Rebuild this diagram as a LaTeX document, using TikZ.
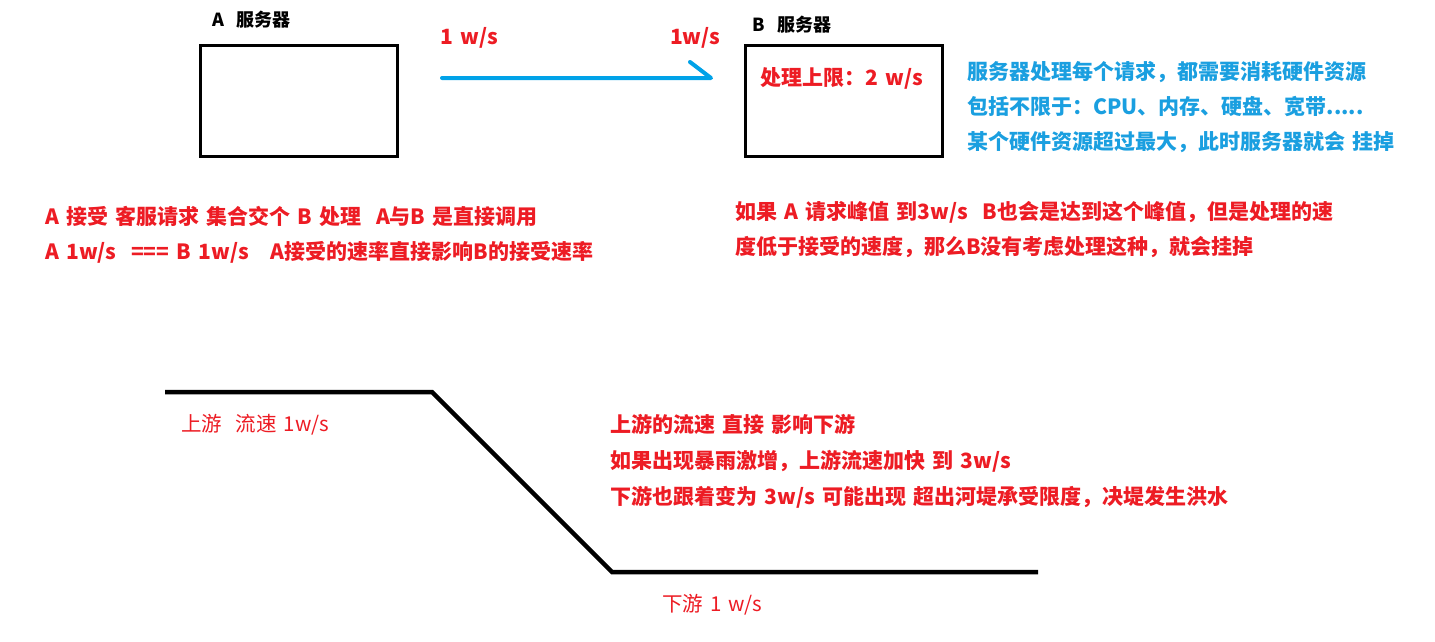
\documentclass[tikz,border=0pt]{standalone}
\usepackage{fontspec}
\setmainfont{Noto Sans CJK SC}[WordSpace=1.5]
\usetikzlibrary{positioning, arrows.meta}
\definecolor{paintred}{HTML}{ED1C24}
\definecolor{paintblue}{HTML}{00A2E8}
\definecolor{skytext}{HTML}{1A9FE0}
\tikzset{
  srv/.style={draw=black, line width=3pt, fill=white, minimum width=197pt,
    minimum height=111pt, inner sep=0pt},
  ttl/.style={anchor=west, inner sep=0pt, text=black, font=\bfseries\fontsize{18}{20}\selectfont},
  rtxt/.style={anchor=west, inner sep=0pt, text=paintred, font=\bfseries\fontsize{21}{24}\selectfont},
  btxt/.style={rtxt, text=skytext},
  rthin/.style={anchor=west, inner sep=0pt, text=paintred, font=\fontsize{20.5}{24}\selectfont},
  flow/.style={line width=4pt, color=paintblue, line cap=round, line join=round},
  bank/.style={line width=4.5pt, color=black, line join=miter},
}
\begin{document}
\begin{tikzpicture}[x=1pt, y=-1pt]
  \useasboundingbox[fill=white] (0,0) rectangle (1435,641);
  \node[srv] (boxA) at (299,101) {};
  \node[srv] (boxB) at (843.5,101) {};
  \node[ttl] (ttlA) at (212,20) {A\ \ 服务器};
  \node[ttl] (ttlB) at (752,25) {B\ \ 服务器};
  \node[rtxt] (rateA) at (440,38) {1 w/s};
  \node[rtxt] (rateB) at (670,38) {1w/s};
  \node[rtxt] (cap) at (760,78) {处理上限：2 w/s};
  \coordinate (arrA) at (442,78);
  \coordinate (arrB) at (711,78);
  \coordinate (barb) at (690,62);
  \draw[flow] (arrA) -- (arrB) -- (barb);
  \node[btxt] (hw1) at (967,72) {服务器处理每个请求，都需要消耗硬件资源};
  \node[btxt] (hw2) at (967,106) {包括不限于：CPU、内存、硬盘、宽带.....};
  \node[btxt] (hw3) at (967,142) {某个硬件资源超过最大，此时服务器就会 挂掉};
  \node[rtxt] (call1) at (45,216) {A 接受 客服请求 集合交个 B 处理~~A与B 是直接调用};
  \node[rtxt] (call2) at (45,252) {A 1w/s~~=== B 1w/s~~~A接受的速率直接影响B的接受速率};
  \node[rtxt] (peak1) at (735,212) {如果 A 请求峰值 到3w/s~~B也会是达到这个峰值，但是处理的速};
  \node[rtxt] (peak2) at (735,247) {度低于接受的速度，那么B没有考虑处理这种，就会挂掉};
  \coordinate (up0) at (165,392);
  \coordinate (up1) at (432,392);
  \coordinate (dn0) at (612,572);
  \coordinate (dn1) at (1038,572);
  \draw[bank] (up0) -- (up1) -- (dn0) -- (dn1);
  \node[rthin] (upLbl) at (181,425) {上游~~流速 1w/s};
  \node[rthin] (dnLbl) at (662,605) {下游 1 w/s};
  \node[rtxt] (flood1) at (610,424) {上游的流速 直接 影响下游};
  \node[rtxt] (flood2) at (610,461) {如果出现暴雨激增，上游流速加快 到 3w/s};
  \node[rtxt] (flood3) at (610,497) {下游也跟着变为 3w/s 可能出现 超出河堤承受限度，决堤发生洪水};
\end{tikzpicture}
\end{document}
